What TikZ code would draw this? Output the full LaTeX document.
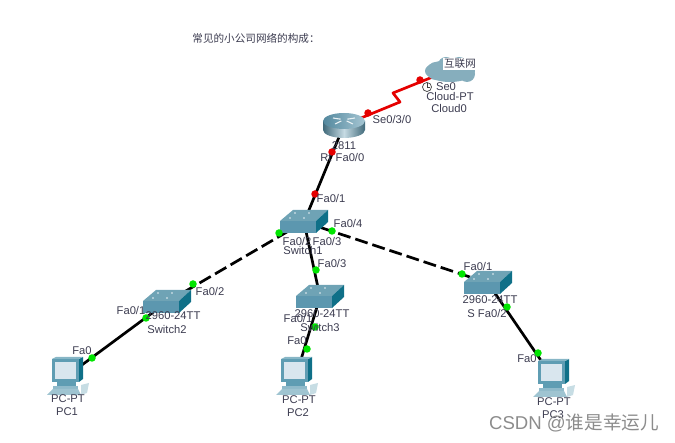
\documentclass[tikz,border=0pt]{standalone}
\usepackage{fontspec}
\setmainfont{Liberation Sans}
\newfontfamily\cjkfont{Noto Sans CJK SC}
\definecolor{labeltext}{HTML}{3C3C50}
\definecolor{swtop}{HTML}{6FA3B5}
\definecolor{swfront}{HTML}{5C97AF}
\definecolor{swside}{HTML}{0F7088}
\definecolor{pcbody}{HTML}{5F9DB3}
\definecolor{pcscreen}{HTML}{D9E6EE}
\definecolor{cloudfill}{HTML}{86AEBD}
\tikzset{
  lbl/.style={inner sep=0pt,text=labeltext,font=\fontsize{11.2}{12}\selectfont},
  plainlink/.style={line width=2.7pt,black},
  dashlink/.style={line width=2.7pt,black,dash pattern=on 13pt off 5pt},
  seriallink/.style={line width=2.7pt,red!90!black,line join=round},
  greendot/.style={circle,fill=green!90!black,inner sep=0pt,minimum size=7.5pt},
  reddot/.style={circle,fill=red!90!black,inner sep=0pt,minimum size=7.5pt},
  switchicon/.pic={
    \fill[swtop] (-24,-1) -- (-11,-12) -- (24,-12) -- (12,-1) -- cycle;
    \fill[swfront] (-24,-1) rectangle (12,11);
    \fill[swside] (12,-1) -- (24,-12) -- (24,0) -- (12,11) -- cycle;
    \foreach \i/\j in {-9/-9,5/-9,-14/-4,0/-4}
      \fill[white!85!swtop] (\i,\j) circle (.9);
  },
  pcicon/.pic={
    \fill[swside] (12,-17) -- (16,-19) -- (16,3) -- (12,6) -- cycle;
    \fill[pcbody] (-15,-17) rectangle (12,6);
    \fill[pcbody!75!white] (-15,-17) -- (-11,-19) -- (16,-19) -- (12,-17) -- cycle;
    \fill[pcscreen] (-12,-14) rectangle (9,3);
    \fill[pcbody] (-10,6) rectangle (9,10);
    \fill[pcbody!70!white] (-14,10) rectangle (11,13);
    \fill[pcbody!60!white] (-14,13) -- (11,13) -- (14,19) -- (-20,19) -- cycle;
    \fill[pcbody!35!white] (14,9) -- (22,7) -- (20,17) -- (14,19) -- cycle;
  },
  routericon/.pic={
    \shade[left color=swfront!70!black,right color=swfront!70!black,middle color=white!65!swfront]
      (-21,-4) -- (-21,5) arc[start angle=180,end angle=360,x radius=21pt,y radius=8pt]
      -- (21,-4) -- cycle;
    \shade[left color=swfront!90!black,right color=swfront!55!white]
      (0,-4) ellipse [x radius=21pt,y radius=8pt];
    \foreach \i/\j in {-11/-7,11/-7,-9/-1,9/-1}
      \draw[white!85!swtop,line width=1.1pt] (0,-4) ++(.3*\i,.3*\j+.3) -- (\i,\j);
  },
  cloudicon/.pic={
    \fill[cloudfill] (0,1) ellipse [x radius=25pt,y radius=11pt];
    \foreach \i/\j/\r in {-14/1/9,-4/-5/8,9/-3/10,17/4/8}
      \fill[cloudfill] (\i,\j) circle (\r);
  },
}
\begin{document}
\begin{tikzpicture}[x=1pt,y=-1pt]
  \useasboundingbox (0,0) rectangle (675,443);
  \coordinate (cloud0) at (450,70);
  \coordinate (zig1) at (393,93);
  \coordinate (zig2) at (400,102);
  \coordinate (router0) at (344,125);
  \coordinate (switch1) at (304,222);
  \coordinate (switch2) at (167,302);
  \coordinate (switch3) at (320,297);
  \coordinate (switch4) at (488,283);
  \coordinate (pc1) at (67,376);
  \coordinate (pc2) at (296,376);
  \coordinate (pc3) at (553,378);
  % links
  \draw[seriallink] (cloud0) -- (zig1) -- (zig2) -- (router0);
  \draw[plainlink] (router0) to (switch1);
  \draw[dashlink] (switch1) to (switch2);
  \draw[plainlink] (switch1) to (switch3);
  \draw[dashlink] (switch1) to (switch4);
  \draw[plainlink] (switch2) to (pc1);
  \draw[plainlink] (switch3) to (pc2);
  \draw[plainlink] (switch4) to (pc3);
  % devices
  \pic at (cloud0) {cloudicon};
  \pic at (router0) {routericon};
  \pic at (switch1) {switchicon};
  \pic at (switch2) {switchicon};
  \pic at (switch3) {switchicon};
  \pic at (switch4) {switchicon};
  \pic at (pc1) {pcicon};
  \pic at (pc2) {pcicon};
  \pic at (pc3) {pcicon};
  % port lights
  \draw
    (420,80) node[reddot] (d0){}
    (368,113) node[reddot] (d1){}
    (332,152) node[reddot] (d2){}
    (315,194) node[reddot] (d3){}
    (279,233) node[greendot] (d4){}
    (332,231) node[greendot] (d5){}
    (316,270) node[greendot] (d6){}
    (193,284) node[greendot] (d7){}
    (146,318) node[greendot] (d8){}
    (92,358) node[greendot] (d9){}
    (462,274) node[greendot] (d10){}
    (507,307) node[greendot] (d11){}
    (538,353) node[greendot] (d12){}
    (315,327) node[greendot] (d13){}
    (307,349) node[greendot] (d14){};
  % clock of the serial port
  \node[draw=black!75,circle,fill=white,inner sep=0pt,minimum size=9pt,line width=.7pt] (clock) at (427,87) {};
  \draw[black!75,line width=.6pt] (427,83.5) -- (clock.center) -- (430,87);
  % labels
  \draw
    (256,38) node[lbl,font=\cjkfont\fontsize{10.6}{12}\selectfont] (title){常见的小公司网络的构成：}
    (460,64) node[lbl,fill=white,inner sep=1pt,font=\cjkfont\fontsize{10.6}{12}\selectfont] (inet){互联网}
    (446,87) node[lbl] (se0){Se0}
    (450,97) node[lbl] (cloudtype){Cloud-PT}
    (449,109) node[lbl] (cloudname){Cloud0}
    (392,120) node[lbl] (se030){Se0/3/0}
    (344,146) node[lbl] (routertype){2811}
    (326,158) node[lbl] (routername){Rt}
    (350,158) node[lbl] (fa00){Fa0/0}
    (331,198) node[lbl] (s1a){Fa0/1}
    (348,223) node[lbl] (s1b){Fa0/4}
    (297,241) node[lbl] (s1c){Fa0/2}
    (327,241) node[lbl] (s1d){Fa0/3}
    (303,250) node[lbl] (s1name){Switch1}
    (332,263) node[lbl] (s3a){Fa0/3}
    (210,291) node[lbl] (s2a){Fa0/2}
    (131,310) node[lbl] (s2b){Fa0/1}
    (173,316) node[lbl] (s2type){2960-24TT}
    (167,329) node[lbl] (s2name){Switch2}
    (82,351) node[lbl] (p1a){Fa0}
    (68,399) node[lbl] (p1type){PC-PT}
    (67,412) node[lbl] (p1name){PC1}
    (322,314) node[lbl] (s3type){2960-24TT}
    (298,318) node[lbl] (s3b){Fa0/1}
    (320,327) node[lbl] (s3name){Switch3}
    (297,341) node[lbl] (p2a){Fa0}
    (299,400) node[lbl] (p2type){PC-PT}
    (298,413) node[lbl] (p2name){PC2}
    (478,266) node[lbl] (s4a){Fa0/1}
    (490,300) node[lbl] (s4type){2960-24TT}
    (487,313) node[lbl] (s4name){S Fa0/2}
    (527,359) node[lbl] (p3a){Fa0}
    (554,402) node[lbl] (p3type){PC-PT}
    (553,415) node[lbl] (p3name){PC3}
    (574,423) node[inner sep=0pt,text=black!45,font=\fontsize{18.6}{20}\selectfont] (mark){CSDN @{\cjkfont 谁是幸运儿}};
\end{tikzpicture}
\end{document}
